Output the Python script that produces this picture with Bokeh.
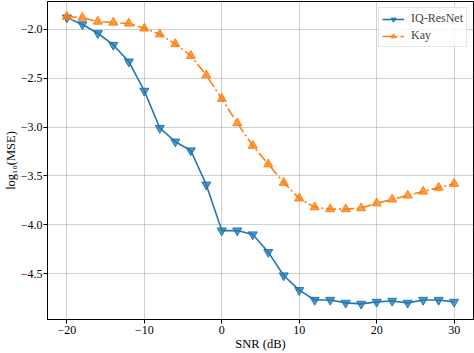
from bokeh.plotting import figure
from bokeh.models import Legend, LegendItem, Range1d, FixedTicker
from bokeh.embed import file_html
from bokeh.resources import INLINE

snr = [-20, -18, -16, -14, -12, -10, -8, -6, -4, -2, 0, 2, 4, 6, 8, 10, 12, 14, 16, 18, 20, 22, 24, 26, 28, 30]
iq_resnet = [-1.88, -1.95, -2.04, -2.16, -2.33, -2.63, -3.01, -3.15, -3.24, -3.59, -4.06, -4.06, -4.10, -4.28,
             -4.52, -4.67, -4.77, -4.77, -4.80, -4.81, -4.79, -4.78, -4.80, -4.77, -4.77, -4.79]
kay = [-1.87, -1.88, -1.92, -1.93, -1.94, -1.99, -2.05, -2.15, -2.27, -2.47, -2.71, -2.96, -3.19, -3.38,
       -3.57, -3.73, -3.82, -3.84, -3.84, -3.83, -3.78, -3.74, -3.70, -3.66, -3.62, -3.58]
x_ticks = [-20, -10, 0, 10, 20, 30]
y_ticks = [-2.0, -2.5, -3.0, -3.5, -4.0, -4.5]

FONT = "Liberation Serif"
BLUE = "#1f77b4"
ORANGE = "#ff7f0e"

p = figure(width=474, height=353, output_backend="svg", toolbar_location=None,
           x_range=Range1d(-22.5, 32.5), y_range=Range1d(-4.97, -1.715),
           min_border_left=0, min_border_right=1, min_border_top=1, min_border_bottom=0)

p.outline_line_color = "black"
p.outline_line_width = 1
p.background_fill_color = "white"

for ax in (p.xaxis[0], p.yaxis[0]):
    ax.axis_line_color = "black"
    ax.major_tick_line_color = "black"
    ax.major_tick_out = 4
    ax.major_tick_in = 0
    ax.minor_tick_line_color = None
    ax.major_label_text_font = FONT
    ax.major_label_text_font_size = "12px"
    ax.major_label_text_color = "black"
    ax.axis_label_text_font = FONT
    ax.axis_label_text_font_size = "12.5px"
    ax.axis_label_text_font_style = "normal"
    ax.axis_label_text_color = "black"

p.xaxis.ticker = FixedTicker(ticks=x_ticks)
p.yaxis.ticker = FixedTicker(ticks=y_ticks)
p.xaxis.major_label_overrides = {t: str(t).replace("-", "\u2212") for t in x_ticks}
p.yaxis.major_label_overrides = {t: ("%.1f" % t).replace("-", "\u2212") for t in y_ticks}
p.xaxis.axis_label = "SNR (dB)"
p.yaxis.axis_label = "log\u2081\u2080(MSE)"
p.xaxis.axis_label_standoff = 0
p.yaxis.axis_label_standoff = 0
p.xaxis.major_label_standoff = 2
p.yaxis.major_label_standoff = 1

p.grid.grid_line_color = "#b0b0b0"
p.grid.grid_line_alpha = 0.6
p.grid.grid_line_width = 1

l1 = p.line(snr, iq_resnet, line_color=BLUE, line_width=1.6)
m1 = p.scatter(snr, iq_resnet, marker="inverted_triangle", size=9, fill_color=BLUE,
               line_color=BLUE, fill_alpha=0.75)
l2 = p.line(snr, kay, line_color=ORANGE, line_width=1.6, line_dash="10 3 2 3")
m2 = p.scatter(snr, kay, marker="triangle", size=9, fill_color=ORANGE,
               line_color=ORANGE, fill_alpha=0.75)

legend = Legend(items=[LegendItem(label="IQ-ResNet", renderers=[l1, m1]),
                       LegendItem(label="Kay", renderers=[l2, m2])],
                location="top_right")
legend.label_text_font = FONT
legend.label_text_font_size = "12px"
legend.border_line_color = "#cccccc"
legend.border_line_width = 1
legend.background_fill_alpha = 0.8
legend.glyph_width = 22
legend.glyph_height = 12
legend.label_height = 12
legend.spacing = 2
legend.padding = 3
legend.margin = 6
legend.label_standoff = 7
p.add_layout(legend)

open("out.html", "w").write(file_html(p, INLINE))
